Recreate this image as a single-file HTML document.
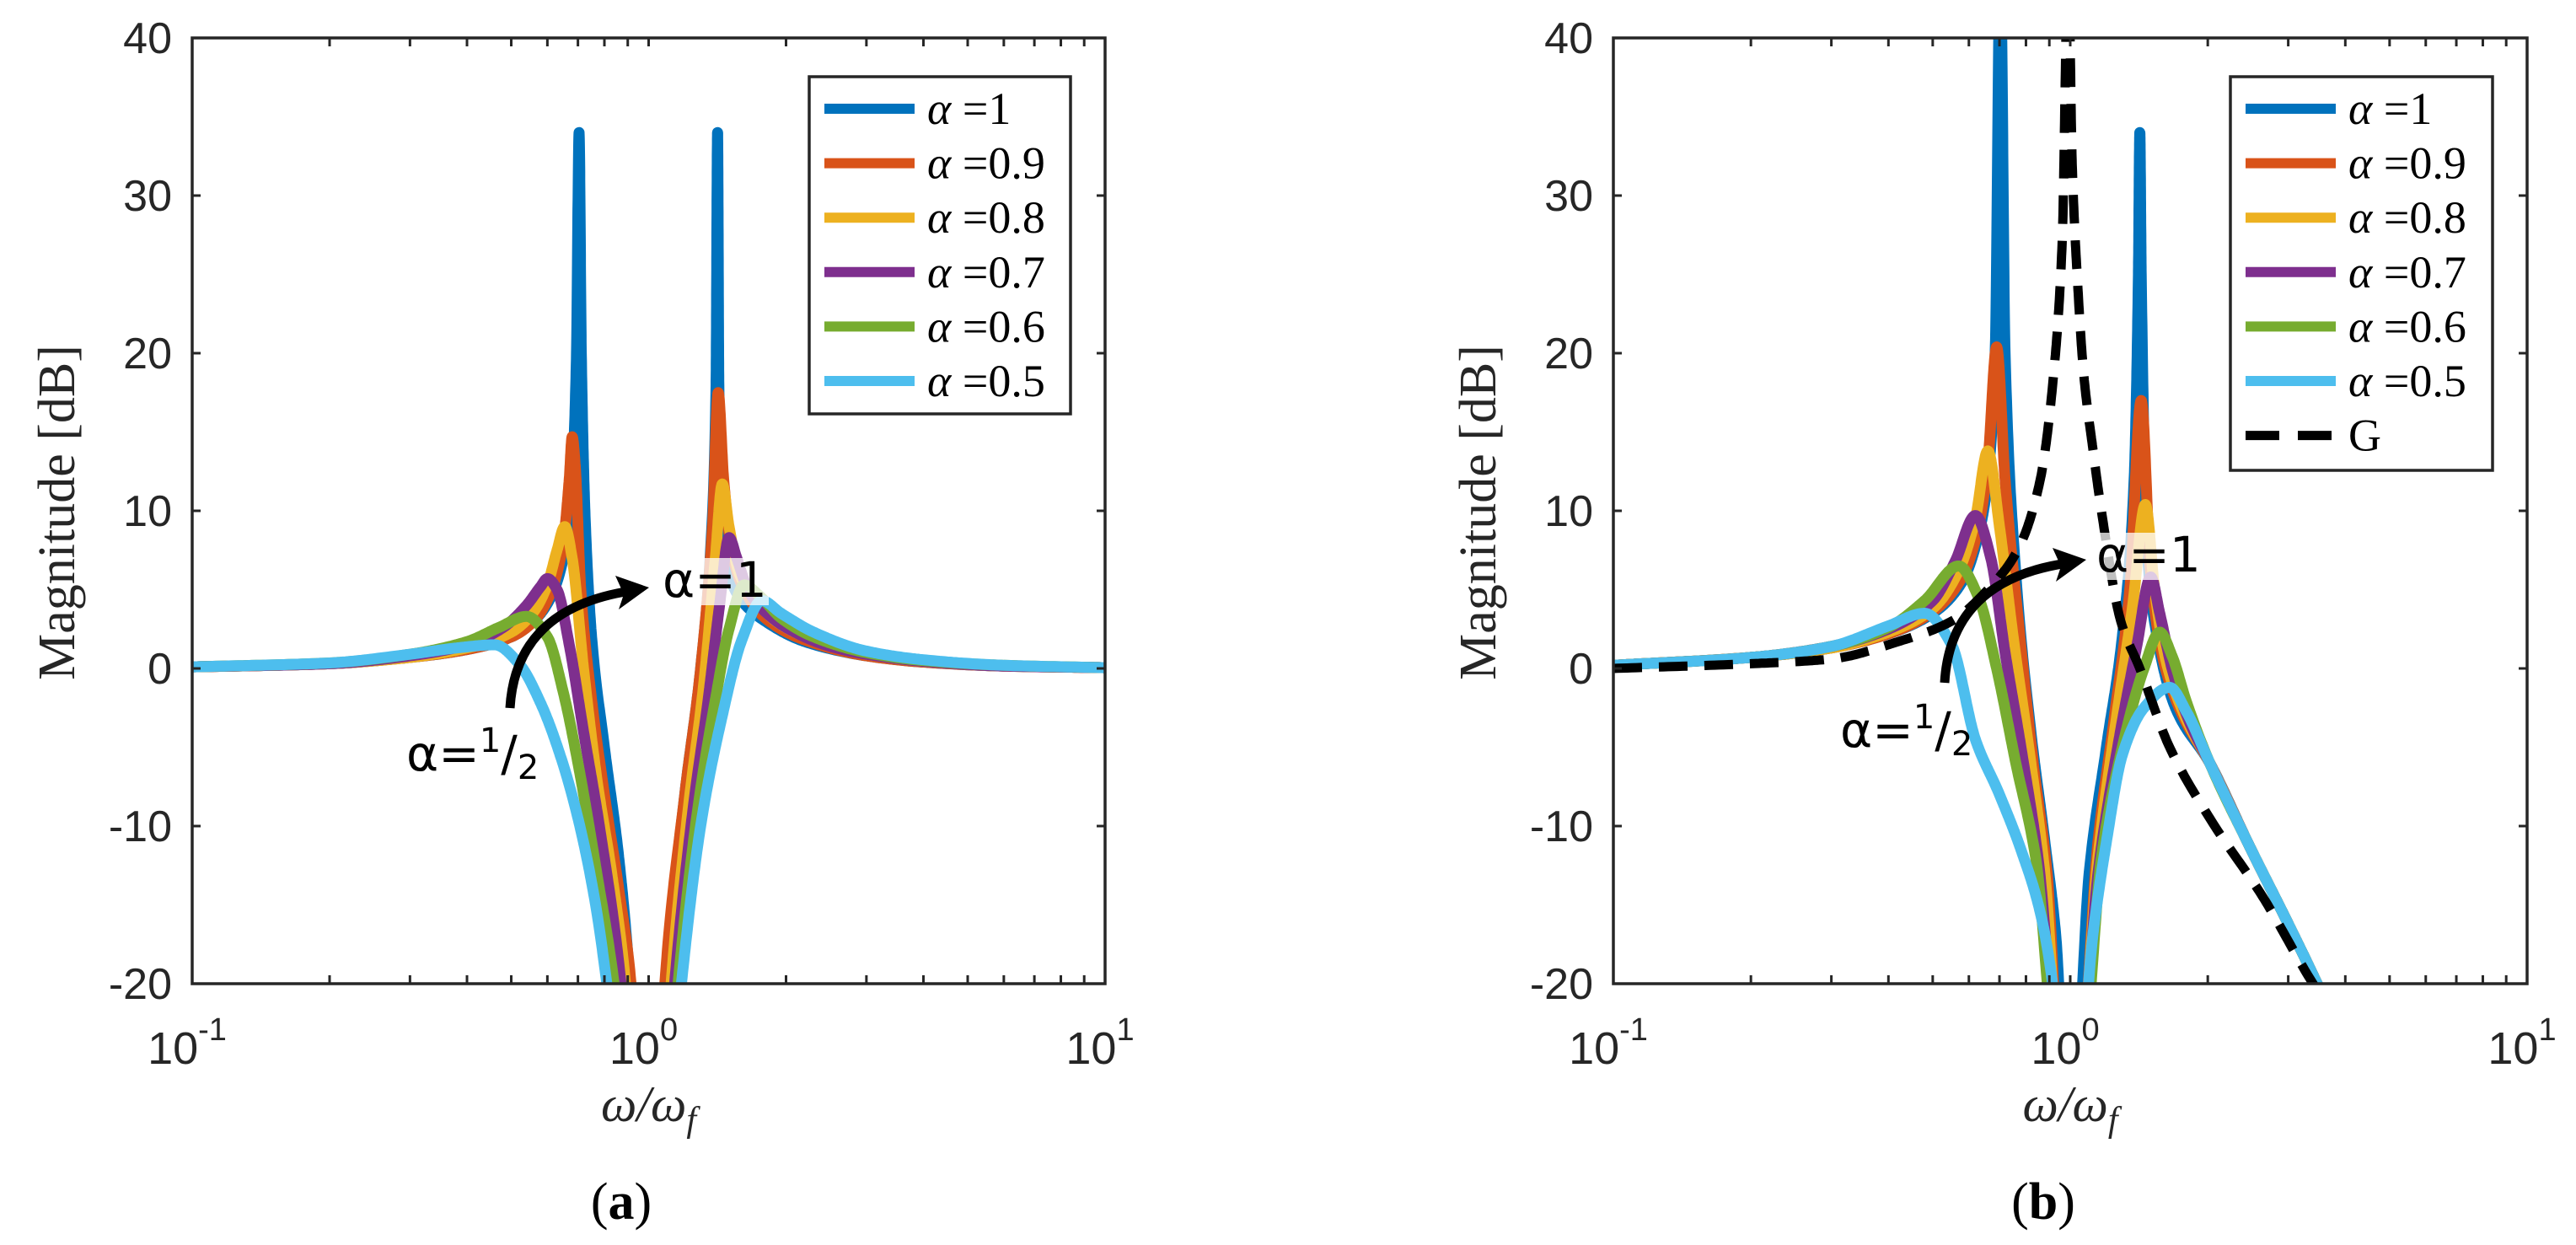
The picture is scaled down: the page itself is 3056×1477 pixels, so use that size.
<!DOCTYPE html>
<html><head><meta charset="utf-8"><style>
html,body{margin:0;padding:0;background:#fff;overflow:hidden;width:3056px;height:1477px;}
svg{display:block;}
</style></head><body>
<svg id="fig" width="3056" height="1477" viewBox="0 0 3056 1477" xmlns="http://www.w3.org/2000/svg">
<defs>
<clipPath id="clipA"><rect x="228" y="45" width="1083" height="1122"/></clipPath>
<clipPath id="clipB"><rect x="1914" y="45" width="1084" height="1122"/></clipPath>
</defs>
<g id="panelA"></g>
<g id="panelB"></g>
</svg>
<script>
// ---- data: panel (a) ----
const seriesLabels = ["α =1","α =0.9","α =0.8","α =0.7","α =0.6","α =0.5"];
const a1_w = [0.1,0.2,0.3,0.4,0.5,0.56,0.61,0.65,0.68,0.695,0.704,0.712,0.725,0.75,0.8,0.86,0.91,1.0,1.09,1.2,1.3,1.37,1.405,1.416,1.425,1.45,1.5,1.6,1.8,2.2,3,4,6,10];
const a1_db = [0.1,0.3,0.7,1.2,2.0,3.0,4.5,7,12,20,34,20,10,2,-5,-12,-20,-45,-20,-8,0,8,18,34,18,9,6,4.3,3,1.7,0.8,0.4,0.15,0.05];
const a09_w = [0.1,0.2,0.3,0.4,0.5,0.56,0.61,0.65,0.67,0.68,0.69,0.71,0.75,0.8,0.86,0.915,1.0,1.085,1.2,1.3,1.38,1.42,1.46,1.52,1.6,1.8,2.2,3,4,6,10];
const a09_db = [0.1,0.3,0.7,1.2,2,3,4.8,8,12,14.7,13,5,-2,-8,-14,-20,-45,-20,-8,0,9,17.5,12,7.5,5.3,3.2,1.8,0.8,0.4,0.15,0.05];
const a08_w = [0.1,0.2,0.3,0.4,0.5,0.56,0.6,0.63,0.655,0.68,0.72,0.77,0.83,0.89,1.0,1.12,1.22,1.32,1.4,1.45,1.5,1.58,1.7,1.9,2.3,3,4,6,10];
const a08_db = [0.1,0.3,0.7,1.3,2.3,3.6,5.3,7.5,9,7,0,-7,-13,-20,-45,-20,-9,-1,7,11.7,9,6,4.5,3,1.8,0.9,0.45,0.15,0.05];
const a07_w = [0.1,0.2,0.3,0.4,0.48,0.54,0.58,0.6,0.63,0.67,0.72,0.78,0.87,1.0,1.14,1.25,1.35,1.43,1.5,1.56,1.65,1.8,2,2.5,3,4,6,10];
const a07_db = [0.1,0.3,0.8,1.5,2.6,4,5.2,5.7,5,1.5,-4,-10,-20,-45,-20,-9,-2,4,8.3,7,5,3.6,2.6,1.4,0.9,0.45,0.15,0.05];
const a06_w = [0.1,0.2,0.3,0.4,0.47,0.54,0.6,0.65,0.7,0.77,0.84,1.0,1.16,1.28,1.4,1.5,1.62,1.75,1.95,2.3,3,4,6,10];
const a06_db = [0.1,0.35,0.9,1.7,2.6,3.3,2,-1.5,-6,-13,-20,-45,-20,-9,-2,2.5,5.3,4.6,3.2,2,1,0.5,0.2,0.05];
const a05_w = [0.1,0.2,0.3,0.38,0.46,0.52,0.58,0.64,0.7,0.76,0.81,1.0,1.18,1.3,1.45,1.6,1.77,1.95,2.3,3,4,6,10];
const a05_db = [0.1,0.35,0.9,1.3,1.5,0.3,-2.2,-5.5,-9.5,-14.5,-20,-45,-20,-10,-3,1.8,4.3,3.5,2.3,1.1,0.55,0.2,0.05];
// ---- data: panel (b) ----
const b1_w = [0.1,0.2,0.3,0.4,0.5,0.58,0.63,0.66,0.685,0.703,0.72,0.76,0.82,0.88,0.93,0.97,1.03,1.1,1.2,1.3,1.38,1.41,1.42,1.43,1.47,1.55,1.7,2.02,2.47,3,3.47,4];
const b1_db = [0.2,0.7,1.3,2.2,3.5,5.5,8.5,12,20,45,20,6,-4,-11,-17,-25,-25,-13,-5,2,12,25,34,25,8,2,-2.5,-6,-11.3,-16.2,-20,-24];
const b09_w = [0.1,0.2,0.3,0.4,0.5,0.58,0.63,0.66,0.69,0.72,0.77,0.83,0.89,0.95,1.05,1.15,1.25,1.35,1.43,1.5,1.6,1.75,2.02,2.47,3,3.47,4];
const b09_db = [0.2,0.7,1.3,2.2,3.6,5.8,9,13,20.4,12,3,-6,-13,-25,-25,-11,-3,5,17,6,0.5,-2.8,-6,-11.3,-16.2,-20,-24];
const b08_w = [0.1,0.2,0.3,0.4,0.5,0.57,0.62,0.66,0.7,0.75,0.82,0.88,0.95,1.05,1.15,1.25,1.37,1.46,1.53,1.62,1.78,2.02,2.47,3,3.47,4];
const b08_db = [0.2,0.7,1.3,2.3,3.8,6.2,9.5,13.8,9,2,-6,-13,-25,-25,-12,-4,4,10.4,5,0.5,-3,-6,-11.3,-16.2,-20,-24];
const b07_w = [0.1,0.2,0.3,0.4,0.5,0.56,0.62,0.67,0.72,0.78,0.85,0.95,1.05,1.15,1.27,1.4,1.5,1.57,1.67,1.8,2.02,2.47,3,3.47,4];
const b07_db = [0.2,0.7,1.4,2.5,4.3,6.8,9.7,7,1,-5,-12,-25,-25,-13,-5,1.5,5.8,3.5,0,-3,-6,-11.3,-16.2,-20,-24];
const b06_w = [0.1,0.2,0.3,0.4,0.48,0.57,0.63,0.69,0.76,0.84,0.94,1.06,1.17,1.3,1.45,1.57,1.67,1.8,2.02,2.47,3,3.47,4];
const b06_db = [0.2,0.7,1.4,2.6,4.3,6.5,4.5,0,-6,-12,-25,-25,-12,-5,0,2.3,0.8,-2.2,-6,-11.3,-16.2,-20,-24];
const b05_w = [0.1,0.2,0.3,0.4,0.48,0.55,0.62,0.7,0.78,0.86,0.91,0.95,1.05,1.12,1.2,1.3,1.45,1.65,1.8,2.02,2.47,3,3.47,4];
const b05_db = [0.2,0.7,1.4,2.7,3.5,1.5,-4.5,-8,-11.5,-15.5,-19.5,-25,-25,-17,-11,-5.5,-2.5,-1.2,-2.8,-6,-11.3,-16.2,-20,-24];
const bG_w = [0.1,0.2,0.3,0.42,0.55,0.66,0.77,0.86,0.92,0.96,0.99,1.01,1.04,1.07,1.12,1.17,1.29,1.42,1.65,2.02,2.64,3.4,4];
const bG_db = [0,0.3,0.6,1.7,3,5,7.6,12,18.7,27,45,32,24,18.7,14,10,3,0,-5,-9.5,-14.5,-20,-23];
const yTicks = [40,30,20,10,0,-10,-20];
const xDecades = [-1,0,1];
const colors = ["#0072BD","#D95319","#EDB120","#7E2F8E","#77AC30","#4DBEEE"];

const NS = "http://www.w3.org/2000/svg";
function mk(tag, attrs, parent){const e=document.createElementNS(NS,tag);for(const k in attrs)e.setAttribute(k,attrs[k]);if(parent)parent.appendChild(e);return e;}

function monotone(xs, ys, n){
  const m=xs.length, d=[], t=new Array(m);
  for(let i=0;i<m-1;i++) d.push((ys[i+1]-ys[i])/(xs[i+1]-xs[i]));
  t[0]=d[0]; t[m-1]=d[m-2];
  for(let i=1;i<m-1;i++){ if(d[i-1]*d[i]<=0) t[i]=0; else { const h0=xs[i]-xs[i-1],h1=xs[i+1]-xs[i]; t[i]=3*(h0+h1)/((2*h1+h0)/d[i-1]+(h1+2*h0)/d[i]); } }
  const out=[];
  for(let i=0;i<m-1;i++){const h=xs[i+1]-xs[i];
    for(let k=0;k<n;k++){const s=k/n,s2=s*s,s3=s2*s;
      const y=(2*s3-3*s2+1)*ys[i]+(s3-2*s2+s)*h*t[i]+(-2*s3+3*s2)*ys[i+1]+(s3-s2)*h*t[i+1];
      out.push([xs[i]+s*h,y]);}}
  out.push([xs[m-1],ys[m-1]]);
  return out;
}

function buildPanel(g, X0, X1, clipId, series, legend){
  const Y0=45, Y1=1167;
  const sx = w => X0 + (Math.log10(w)+1)/2*(X1-X0);
  const sy = v => Y0 + (40-v)/60*(Y1-Y0);
  const ink="#262626";
  const sg = mk("g",{"clip-path":"url(#"+clipId+")"},g);
  series.forEach(s=>{
    const pts = monotone(s.w.map(Math.log10), s.db, 30);
    const d = pts.map((p,i)=>(i?"L":"M")+sx(Math.pow(10,p[0])).toFixed(1)+","+sy(p[1]).toFixed(1)).join("");
    const p = mk("path",{d:d,fill:"none",stroke:s.color,"stroke-width":s.dash?11:13,"stroke-linejoin":"round","stroke-dasharray":s.dash?"34,20":"none"},sg);
    
    
  });
  const box = mk("rect",{x:X0,y:Y0,width:X1-X0,height:Y1-Y0,fill:"none",stroke:ink,"stroke-width":3.5},g);
  
  
  yTicks.forEach(v=>{
    const y=sy(v);
    mk("line",{x1:X0,y1:y,x2:X0+10,y2:y,stroke:ink,"stroke-width":3},g);
    mk("line",{x1:X1,y1:y,x2:X1-10,y2:y,stroke:ink,"stroke-width":3},g);
    const t=mk("text",{x:X0-24,y:y+18,"text-anchor":"end","font-family":"Liberation Sans, sans-serif","font-size":52,fill:ink},g);
    t.textContent=String(v);
    
    
  });
  for(let dec=-1; dec<1; dec++){
    for(let k=1;k<=9;k++){
      const w=k*Math.pow(10,dec); const x=sx(w); const L = 10;
      mk("line",{x1:x,y1:Y1,x2:x,y2:Y1-L,stroke:ink,"stroke-width":3},g);
      mk("line",{x1:x,y1:Y0,x2:x,y2:Y0+L,stroke:ink,"stroke-width":3},g);
    }
  }
  xDecades.forEach(dec=>{
    const x=sx(Math.pow(10,dec));
    const t=mk("text",{x:x-6,y:1262,"text-anchor":"middle","font-family":"Liberation Sans, sans-serif","font-size":54,fill:ink},g);
    
    
    t.appendChild(document.createTextNode("10"));
    const sp=mk("tspan",{"font-size":38,dy:-28},t); sp.textContent=String(dec);
  });
  const cx=(X0+X1)/2;
  const xl=mk("text",{x:cx,y:1330,"text-anchor":"middle","font-family":"Liberation Serif, serif","font-size":60,"font-style":"italic",fill:ink},g);
  
  
  xl.appendChild(document.createTextNode("ω/ω"));
  const sub=mk("tspan",{"font-size":42,dy:12},xl); sub.textContent="f";
  const yl=mk("text",{x:0,y:0,transform:"translate("+(X0-140)+",608) rotate(-90)","text-anchor":"middle","font-family":"Liberation Serif, serif","font-size":62,fill:ink},g);
  yl.textContent="Magnitude [dB]";
  
  
  const lg=mk("g",{},g);
  
  
  mk("rect",{x:legend.x,y:91,width:legend.w,height:legend.h,fill:"#fff",stroke:ink,"stroke-width":3.5},lg);
  series.forEach((s,i)=>{
    const y=129+i*64.6;
    mk("line",{x1:legend.x+18,y1:y,x2:legend.x+125,y2:y,stroke:s.color,"stroke-width":s.dash?11:12,"stroke-dasharray":s.dash?"40,22":"none"},lg);
    const t=mk("text",{x:legend.x+140,y:y+18,"font-family":"Liberation Serif, serif","font-size":54,fill:"#000"},lg);
    
    
    if(s.label==="G"){t.textContent="G";}
    else{const a=mk("tspan",{"font-style":"italic"},t);a.textContent="α";t.appendChild(document.createTextNode(" ="+s.label.split("=")[1]));}
  });
}

function annot(g, sx0, sy0, cx, cy, ex, ey, t1x, t1y, t2x, t2y){
  const ag=mk("g",{},g);
  
  
  mk("path",{d:`M${sx0},${sy0} Q${cx},${cy} ${ex-22},${ey+4}`,fill:"none",stroke:"#000","stroke-width":11},ag);
  mk("polygon",{points:`${ex},${ey} ${ex-40},${ey-14} ${ex-30},${ey+8} ${ex-36},${ey+26}`,fill:"#000"},ag);
  mk("rect",{x:t1x-6,y:t1y-46,width:132,height:56,fill:"#fff","fill-opacity":0.75},ag);
  const a=mk("text",{x:t1x,y:t1y,"font-family":"DejaVu Sans, sans-serif","font-size":58,fill:"#000"},ag);
  a.textContent="α=1";
  
  
  const b=mk("text",{x:t2x,y:t2y,"font-family":"DejaVu Sans, sans-serif","font-size":58,fill:"#000"},ag);
  
  
  b.appendChild(document.createTextNode("α="));
  const s1=mk("tspan",{"font-size":40,dy:-22},b); s1.textContent="1";
  const s2=mk("tspan",{"font-size":58,dy:22},b); s2.textContent="/";
  const s3=mk("tspan",{"font-size":40,dy:10},b); s3.textContent="2";
}

function caption(g,x,txt){
  const t=mk("text",{x:x,y:1446,"text-anchor":"middle","font-family":"Liberation Serif, serif","font-size":62,fill:"#000"},g);
  
  
  t.appendChild(document.createTextNode("("));
  const b=mk("tspan",{"font-weight":"bold"},t); b.textContent=txt;
  t.appendChild(document.createTextNode(")"));
}

const sA=[
 {w:a1_w,db:a1_db,color:colors[0],label:seriesLabels[0],name:"series-alpha-1"},
 {w:a09_w,db:a09_db,color:colors[1],label:seriesLabels[1],name:"series-alpha-0.9"},
 {w:a08_w,db:a08_db,color:colors[2],label:seriesLabels[2],name:"series-alpha-0.8"},
 {w:a07_w,db:a07_db,color:colors[3],label:seriesLabels[3],name:"series-alpha-0.7"},
 {w:a06_w,db:a06_db,color:colors[4],label:seriesLabels[4],name:"series-alpha-0.6"},
 {w:a05_w,db:a05_db,color:colors[5],label:seriesLabels[5],name:"series-alpha-0.5"}];
const sB=[
 {w:b1_w,db:b1_db,color:colors[0],label:seriesLabels[0],name:"series-alpha-1"},
 {w:b09_w,db:b09_db,color:colors[1],label:seriesLabels[1],name:"series-alpha-0.9"},
 {w:b08_w,db:b08_db,color:colors[2],label:seriesLabels[2],name:"series-alpha-0.8"},
 {w:b07_w,db:b07_db,color:colors[3],label:seriesLabels[3],name:"series-alpha-0.7"},
 {w:b06_w,db:b06_db,color:colors[4],label:seriesLabels[4],name:"series-alpha-0.6"},
 {w:b05_w,db:b05_db,color:colors[5],label:seriesLabels[5],name:"series-alpha-0.5"},
 {w:bG_w,db:bG_db,color:"#000",label:"G",name:"series-G",dash:true}];

const gA=document.getElementById("panelA"), gB=document.getElementById("panelB");
buildPanel(gA,228,1311,"clipA",sA,{x:960,w:310,h:400});
buildPanel(gB,1914,2998,"clipB",sB,{x:2646,w:311,h:467});
annot(gA,605,840,612,722,770,697,786,708,482,914);
annot(gB,2307,810,2314,688,2475,664,2487,678,2183,886);
caption(gA,737,"a");
caption(gB,2424,"b");
</script>
</body></html>
